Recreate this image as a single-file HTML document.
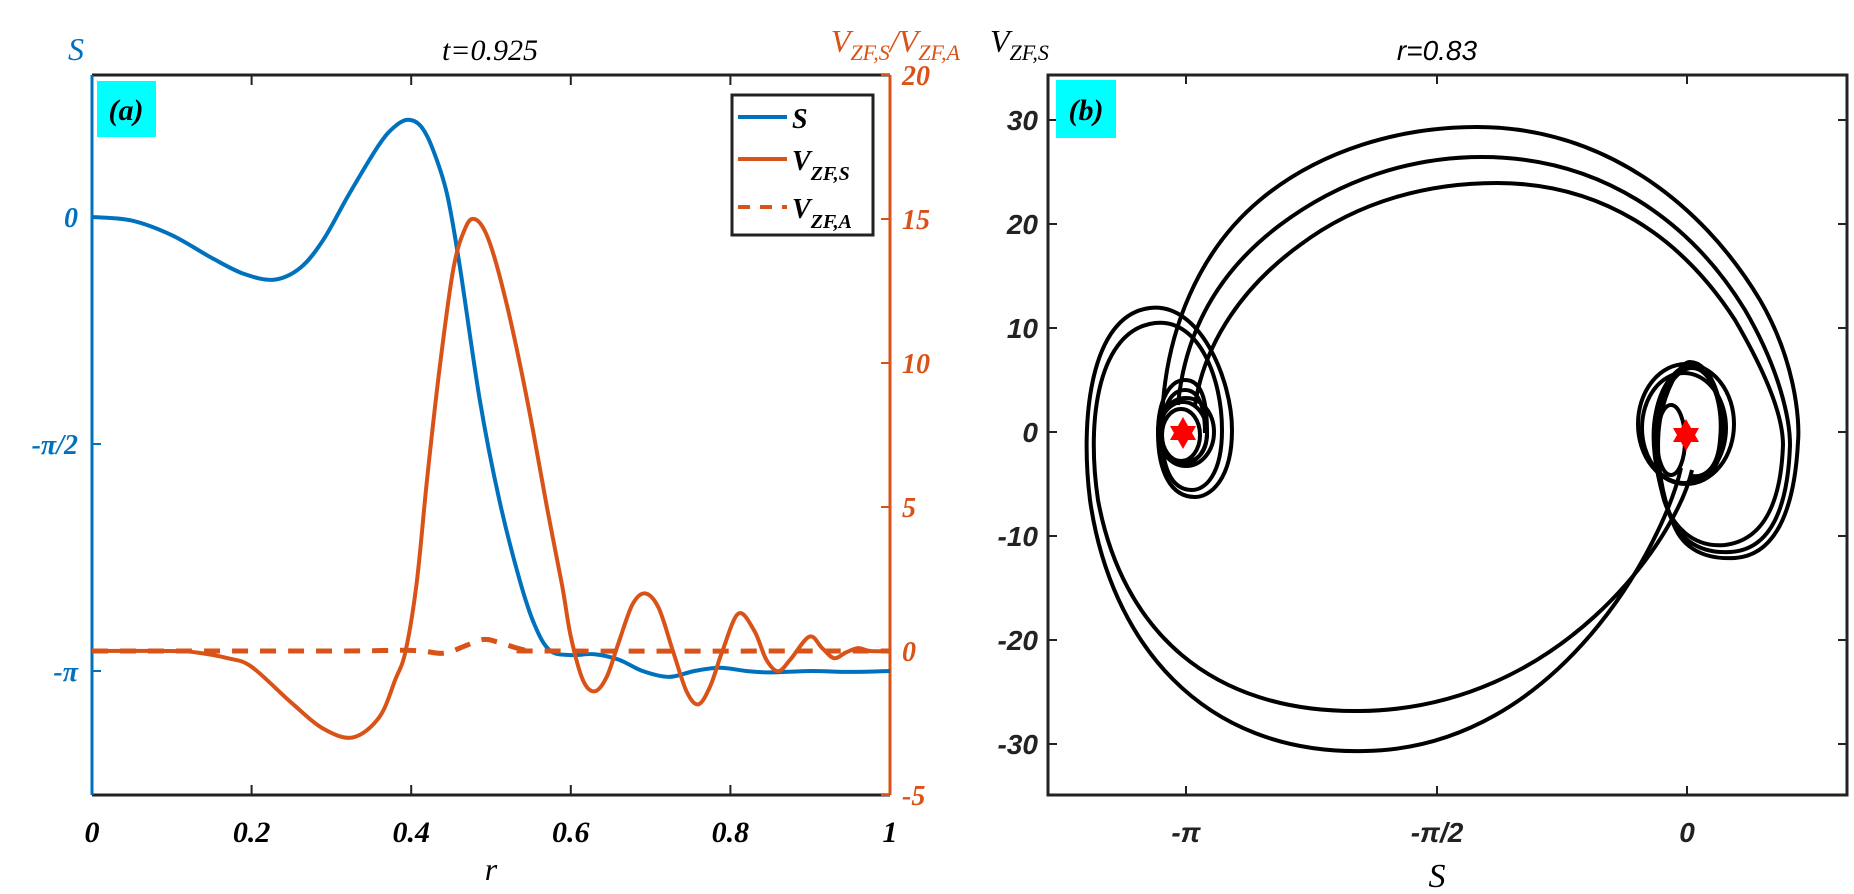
<!DOCTYPE html>
<html><head><meta charset="utf-8"><style>
html,body{margin:0;padding:0;background:#fff;}
svg{display:block;}
.sr{font-family:"Liberation Serif",serif;}
.ss{font-family:"Liberation Sans",sans-serif;}
</style></head><body>
<svg id="s" width="1854" height="894" viewBox="0 0 1854 894" xmlns="http://www.w3.org/2000/svg">
<rect width="1854" height="894" fill="#fff"/>
<line x1="92" y1="75" x2="890" y2="75" stroke="#222" stroke-width="3"/>
<line x1="92" y1="795" x2="890" y2="795" stroke="#222" stroke-width="3"/>
<line x1="92" y1="75" x2="92" y2="795" stroke="#0072BD" stroke-width="3"/>
<line x1="890" y1="75" x2="890" y2="795" stroke="#D95319" stroke-width="3"/>
<g id="aticks"></g>
<rect x="97" y="81" width="59" height="56" fill="#00FFFF"/>
<text x="126" y="120" class="sr" font-size="30" font-style="italic" font-weight="bold" text-anchor="middle">(a)</text>
<g id="acurves"></g>
<rect x="732" y="95" width="141" height="140" fill="#fff" stroke="#222" stroke-width="3"/>
<line x1="738" y1="117" x2="787" y2="117" stroke="#0072BD" stroke-width="4"/>
<line x1="738" y1="159" x2="787" y2="159" stroke="#D95319" stroke-width="4"/>
<line x1="738" y1="207" x2="787" y2="207" stroke="#D95319" stroke-width="4" stroke-dasharray="12,10"/>
<text x="792" y="128" class="sr" font-size="28" font-style="italic" font-weight="bold">S</text>
<text x="792" y="170" class="sr" font-size="28" font-style="italic" font-weight="bold">V<tspan font-size="20" dy="10">ZF,S</tspan></text>
<text x="792" y="218" class="sr" font-size="28" font-style="italic" font-weight="bold">V<tspan font-size="20" dy="10">ZF,A</tspan></text>
<text x="76" y="60" class="sr" font-size="32" font-style="italic" fill="#0072BD" text-anchor="middle">S</text>
<text x="490" y="60" class="sr" font-size="30" font-style="italic" text-anchor="middle">t=0.925</text>
<text x="960" y="52" class="sr" font-size="32" font-style="italic" fill="#D95319" text-anchor="end">V<tspan font-size="22" dy="8">ZF,S</tspan><tspan dy="-8">/V</tspan><tspan font-size="22" dy="8">ZF,A</tspan></text>
<text x="491" y="880" class="sr" font-size="32" font-style="italic" text-anchor="middle">r</text>

<rect x="1048" y="75" width="799" height="720" fill="none" stroke="#222" stroke-width="3"/>
<g id="bticks"></g>
<rect x="1056" y="80" width="60" height="58" fill="#00FFFF"/>
<text x="1086" y="120" class="sr" font-size="30" font-style="italic" font-weight="bold" text-anchor="middle">(b)</text>
<g fill="none" stroke="#000" stroke-width="4">
<path d="M1162,420 C1165,330 1200,250 1260,200 C1320,150 1400,127 1477,127 C1600,127 1700,200 1760,300 C1795,360 1800,420 1798,442 C1795,500 1780,555 1735,558 C1700,560 1680,545 1672,520 C1660,490 1655,450 1660,420 C1665,390 1680,362 1690,362 C1710,362 1725,400 1722,440 C1720,470 1706,482 1690,478"/>
<path d="M1178,405 C1185,330 1220,270 1280,225 C1340,180 1410,157 1482,157 C1600,157 1690,220 1745,310 C1780,370 1790,420 1790,445 C1788,505 1772,550 1730,552 C1695,554 1676,535 1668,510 C1658,480 1652,445 1658,415 C1664,385 1680,368 1692,368 C1712,368 1724,405 1720,440 C1718,468 1705,478 1692,476"/>
<path d="M1195,405 C1205,340 1245,285 1300,245 C1360,200 1430,183 1497,183 C1600,183 1680,235 1735,320 C1770,380 1783,420 1783,445 C1781,500 1765,540 1725,545 C1692,548 1672,525 1664,500 C1656,470 1650,440 1656,412 C1662,382 1678,366 1690,366 C1712,366 1726,405 1722,440"/>
<path d="M1681,468 C1665,540 1560,748 1365,751 C1200,755 1110,640 1090,500 C1080,420 1090,315 1150,308 C1200,302 1232,380 1232,430 C1232,480 1210,497 1195,497 C1170,497 1158,470 1158,433 C1158,400 1170,380 1185,380 C1205,380 1207,410 1207,433 C1207,455 1195,462 1183,462"/>
<path d="M1692,470 C1676,540 1560,709 1360,711 C1210,713 1122,630 1098,500 C1086,420 1098,330 1155,323 C1200,318 1222,380 1222,430 C1222,475 1205,490 1192,490 C1170,490 1162,465 1162,433 C1162,405 1172,390 1185,390 C1200,390 1205,410 1205,433"/>
<ellipse cx="1183" cy="433" rx="24" ry="31"/>
<ellipse cx="1181" cy="435" rx="19" ry="26"/>
<ellipse cx="1186" cy="432" rx="28" ry="34"/>
<ellipse cx="1686" cy="424" rx="48" ry="60"/>
<ellipse cx="1684" cy="428" rx="42" ry="55"/>
<ellipse cx="1671" cy="440" rx="14" ry="35"/>
</g>
<polygon fill="#f00" points="1183,417 1196,440 1170,440"/>
<polygon fill="#f00" points="1183,449 1196,426 1170,426"/>
<polygon fill="#f00" points="1686,419 1699,442 1673,442"/>
<polygon fill="#f00" points="1686,451 1699,428 1673,428"/>
<text x="990" y="52" class="sr" font-size="32" font-style="italic">V<tspan font-size="22" dy="8">ZF,S</tspan></text>
<text x="1437" y="60" class="ss" font-size="28" font-style="italic" text-anchor="middle">r=0.83</text>
<text x="1437" y="887" class="sr" font-size="34" font-style="italic" text-anchor="middle">S</text>
</svg>
<script>
var NS="http://www.w3.org/2000/svg";
function el(p,t,a,txt){var e=document.createElementNS(NS,t);for(var k in a)e.setAttribute(k,a[k]);if(txt!==undefined)e.textContent=txt;p.appendChild(e);return e;}
function cr(pts){var d="M"+pts[0][0].toFixed(1)+","+pts[0][1].toFixed(1);
for(var i=0;i<pts.length-1;i++){var p0=pts[Math.max(i-1,0)],p1=pts[i],p2=pts[i+1],p3=pts[Math.min(i+2,pts.length-1)];
var c1=[p1[0]+(p2[0]-p0[0])/6,p1[1]+(p2[1]-p0[1])/6],c2=[p2[0]-(p3[0]-p1[0])/6,p2[1]-(p3[1]-p1[1])/6];
d+=" C"+c1[0].toFixed(1)+","+c1[1].toFixed(1)+" "+c2[0].toFixed(1)+","+c2[1].toFixed(1)+" "+p2[0].toFixed(1)+","+p2[1].toFixed(1);}return d;}
var X=function(r){return 92+798*r;};
var YS=function(s){return 217-454*s;};
var YV=function(v){return 651-28.8*v;};
var at=document.getElementById("aticks");
[0,0.2,0.4,0.6,0.8,1].forEach(function(r){var x=X(r);
 if(r>0&&r<1){el(at,"line",{x1:x,y1:795,x2:x,y2:785,stroke:"#222","stroke-width":2});el(at,"line",{x1:x,y1:75,x2:x,y2:85,stroke:"#222","stroke-width":2});}
 el(at,"text",{x:x,y:842,"class":"sr","font-size":30,"font-style":"italic","font-weight":"bold","text-anchor":"middle"},String(r));});
[[0,"0"],[-0.5,"-π/2"],[-1,"-π"]].forEach(function(a){var y=YS(a[0]);
 el(at,"line",{x1:92,y1:y,x2:101,y2:y,stroke:"#0072BD","stroke-width":2});
 el(at,"text",{x:78,y:y+10,"class":"sr","font-size":28,"font-style":"italic","font-weight":"bold","text-anchor":"end",fill:"#0072BD"},a[1]);});
[20,15,10,5,0,-5].forEach(function(v){var y=YV(v);
 el(at,"line",{x1:890,y1:y,x2:881,y2:y,stroke:"#D95319","stroke-width":2});
 el(at,"text",{x:902,y:y+10,"class":"sr","font-size":28,"font-style":"italic","font-weight":"bold",fill:"#D95319"},String(v));});
var ac=document.getElementById("acurves");
var S=[[0,0],[0.05,-0.008],[0.1,-0.04],[0.15,-0.09],[0.19,-0.125],[0.228,-0.138],[0.261,-0.112],[0.29,-0.05],[0.323,0.053],[0.36,0.16],[0.38,0.2],[0.396,0.214],[0.412,0.2],[0.427,0.15],[0.445,0.05],[0.461,-0.11],[0.486,-0.403],[0.51,-0.62],[0.536,-0.80],[0.555,-0.9],[0.574,-0.955],[0.6,-0.965],[0.63,-0.963],[0.66,-0.975],[0.69,-1.0],[0.723,-1.013],[0.755,-1.0],[0.787,-0.993],[0.82,-1.0],[0.85,-1.003],[0.9,-1.0],[0.95,-1.002],[1,-1.0]];
el(ac,"path",{d:cr(S.map(function(p){return[X(p[0]),YS(p[1])];})),fill:"none",stroke:"#0072BD","stroke-width":4});
var V=[[0,0],[0.1,0],[0.13,-0.05],[0.17,-0.25],[0.2,-0.55],[0.25,-1.8],[0.29,-2.7],[0.327,-3.0],[0.36,-2.3],[0.38,-1.0],[0.393,0],[0.407,2.4],[0.42,6],[0.436,9.9],[0.453,13.3],[0.468,14.7],[0.479,15.0],[0.492,14.6],[0.505,13.6],[0.52,12.0],[0.536,10],[0.553,7.6],[0.57,5],[0.589,2.3],[0.6,0.5],[0.615,-1.0],[0.63,-1.4],[0.645,-0.9],[0.66,0.3],[0.677,1.6],[0.693,2.0],[0.71,1.5],[0.728,0],[0.745,-1.4],[0.76,-1.85],[0.775,-1.2],[0.79,0],[0.81,1.3],[0.83,0.7],[0.845,-0.3],[0.86,-0.7],[0.875,-0.3],[0.899,0.5],[0.915,0.1],[0.93,-0.25],[0.945,-0.05],[0.96,0.1],[0.975,0],[1,0]];
el(ac,"path",{d:cr(V.map(function(p){return[X(p[0]),YV(p[1])];})),fill:"none",stroke:"#D95319","stroke-width":4});
var A=[[0,0],[0.3,0],[0.4,0.02],[0.44,-0.08],[0.465,0.15],[0.49,0.4],[0.51,0.3],[0.54,0.05],[0.57,0],[1,0]];
el(ac,"path",{d:cr(A.map(function(p){return[X(p[0]),YV(p[1])];})),fill:"none",stroke:"#D95319","stroke-width":5,"stroke-dasharray":"16,12"});
var bt=document.getElementById("bticks");
var YB=function(v){return 432-10.4*v;};
[30,20,10,0,-10,-20,-30].forEach(function(v){var y=YB(v);
 el(bt,"line",{x1:1048,y1:y,x2:1057,y2:y,stroke:"#222","stroke-width":2});
 el(bt,"line",{x1:1847,y1:y,x2:1838,y2:y,stroke:"#222","stroke-width":2});
 el(bt,"text",{x:1038,y:y+10,"class":"ss","font-size":28,"font-style":"italic","font-weight":"bold","text-anchor":"end",fill:"#222"},String(v));});
[[1186,"-π"],[1437,"-π/2"],[1687,"0"]].forEach(function(a){
 el(bt,"line",{x1:a[0],y1:795,x2:a[0],y2:786,stroke:"#222","stroke-width":2});
 el(bt,"line",{x1:a[0],y1:75,x2:a[0],y2:84,stroke:"#222","stroke-width":2});
 el(bt,"text",{x:a[0],y:842,"class":"ss","font-size":28,"font-style":"italic","font-weight":"bold","text-anchor":"middle",fill:"#222"},a[1]);});
</script>
</body></html>
